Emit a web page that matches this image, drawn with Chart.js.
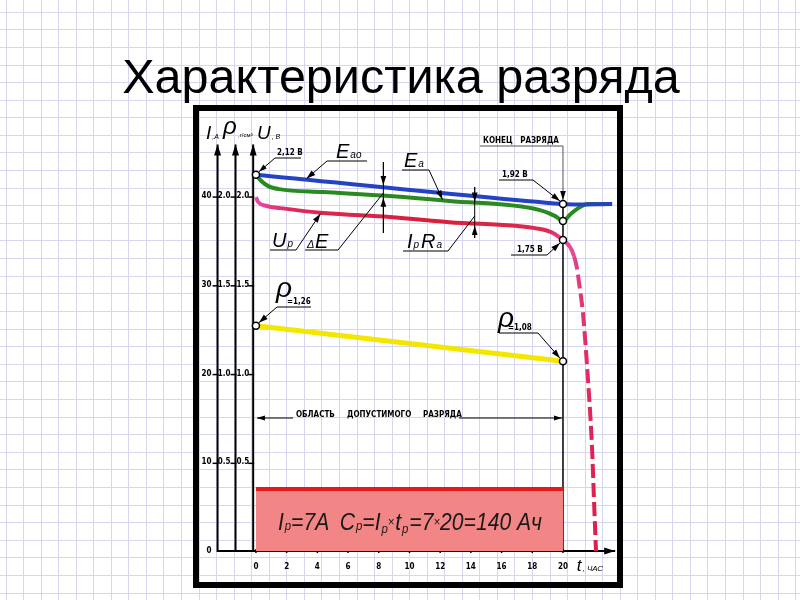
<!DOCTYPE html>
<html lang="ru">
<head>
<meta charset="utf-8">
<title>Характеристика разряда</title>
<script src="https://cdn.jsdelivr.net/npm/chart.js@4/dist/chart.umd.min.js"></script>
<style>
  html, body { margin: 0; padding: 0; background: #fff; }
  #quadro { position: relative; width: 800px; height: 600px; }
</style>
</head>
<body>
<div id="quadro"><canvas id="graficoDescarga"></canvas></div>
<script>
// ---- dados (t em horas, U em volts) ----
const eaoT = [0, 20, 23.2];                 // E_ао (azul)
const eaoU = [2.12, 1.955, 1.955];

const eaT = [0, 0.35, 0.8, 1.5, 4.4, 8.7, 12.6, 18.5, 19.5, 20, 20.5, 21, 21.6, 23.2];   // E_а (verde)
const eaU = [2.12, 2.085, 2.056, 2.039, 2.023, 2.0, 1.972, 1.921, 1.887, 1.859, 1.899, 1.932, 1.955, 1.955];

const upT = [0, 0.15, 0.7, 1.6, 4.4, 8.7, 12.6, 18.5, 19.35, 20, 20.46, 20.72, 20.91, 21.04, 21.3, 21.63, 21.89, 22.02, 22.15]; // U_р
const upU = [1.994, 1.966, 1.944, 1.932, 1.904, 1.882, 1.853, 1.814, 1.792, 1.752, 1.713, 1.662, 1.594, 1.515, 1.341, 0.963, 0.586, 0.287, 0];

const rhoT = [0, 20];                        // densidade (г/см³)
const rhoV = [1.27, 1.07];

const ipT = [0, 20];                         // corrente de descarga (A)
const ipA = [7, 7];

const horas = [0, 2, 4, 6, 8, 10, 12, 14, 16, 18, 20];
const ticksA = [0, 10, 20, 30, 40];
const ticksRho = [0.5, 1.0, 1.5, 2.0];
const ticksU = [0.5, 1.0, 1.5, 2.0];

const A_POR_V = 20;      // 40 A fica na mesma altura que 2,0 В
const FIM = 20;          // fim da descarga, h

const pares = (ts, vs, k = 1) => ts.map((t, i) => ({ x: t, y: vs[i] / k }));

function valorEm(ts, vs, t) {
  for (let i = 1; i < ts.length; i++) {
    if (t <= ts[i]) {
      const f = (t - ts[i - 1]) / (ts[i] - ts[i - 1]);
      return vs[i - 1] + f * (vs[i] - vs[i - 1]);
    }
  }
  return vs[vs.length - 1];
}

const marcadores = [
  { x: eaoT[0], y: eaoU[0] },
  { x: FIM, y: valorEm(eaoT, eaoU, FIM) },
  { x: FIM, y: valorEm(eaT, eaU, FIM) },
  { x: FIM, y: valorEm(upT, upU, FIM) },
  { x: rhoT[0], y: rhoV[0] },
  { x: rhoT[1], y: rhoV[1] }
];

const NARROW = '"Liberation Sans Narrow", "DejaVu Sans Condensed", "Liberation Sans", sans-serif';
const SANS = '"Liberation Sans", Arial, sans-serif';

// seta com ponta cheia em (x2, y2)
function seta(c, x1, y1, x2, y2, tam = 7, larg = 1) {
  c.lineWidth = larg;
  c.beginPath(); c.moveTo(x1, y1); c.lineTo(x2, y2); c.stroke();
  const a = Math.atan2(y2 - y1, x2 - x1);
  const w = tam * 0.32;
  c.beginPath();
  c.moveTo(x2, y2);
  c.lineTo(x2 - tam * Math.cos(a) + w * Math.sin(a), y2 - tam * Math.sin(a) - w * Math.cos(a));
  c.lineTo(x2 - tam * Math.cos(a) - w * Math.sin(a), y2 - tam * Math.sin(a) + w * Math.cos(a));
  c.closePath(); c.fill();
}

function linha(c, x1, y1, x2, y2, larg = 1) {
  c.lineWidth = larg;
  c.beginPath(); c.moveTo(x1, y1); c.lineTo(x2, y2); c.stroke();
}

// letra grande em itálico + índice pequeno
function simbolo(c, x, y, letra, indice, tam = 19, tamInd = 9) {
  c.font = "italic " + tam + "px " + SANS;
  c.fillText(letra, x, y);
  const w = c.measureText(letra).width;
  c.font = "italic " + tamInd + "px " + SANS;
  c.fillText(indice, x + w + 1, y);
  return x + w + 1 + c.measureText(indice).width;
}

function texto(c, s, x, y, tam = 8, alinh = "left") {
  c.font = "bold " + tam + "px " + NARROW;
  c.textAlign = alinh;
  c.fillText(s, x, y);
  c.textAlign = "left";
}

const desenho = {
  id: "desenho",
  beforeDraw(chart) {
    const c = chart.ctx;
    c.save();
    c.fillStyle = "#fff";
    c.fillRect(0, 0, chart.width, chart.height);
    // papel quadriculado
    c.strokeStyle = "#d6d6f0";
    c.lineWidth = 1;
    for (let x = 5.5; x < chart.width; x += 17.55) linha(c, Math.round(x) + 0.5, 0, Math.round(x) + 0.5, chart.height);
    for (let y = 11.7; y < chart.height; y += 17.6) linha(c, 0, Math.round(y) + 0.5, chart.width, Math.round(y) + 0.5);
    c.restore();
  },
  beforeDatasetsDraw(chart) {
    const c = chart.ctx;
    const { x, y } = chart.scales;
    const px = v => x.getPixelForValue(v);
    const py = v => y.getPixelForValue(v);
    const y0 = py(0);
    const eixos = [px(-2.5), px(-1.33), px(-0.18)];
    c.save();
    c.strokeStyle = "#000";
    c.fillStyle = "#000";
    eixos.forEach(ex => seta(c, ex, y0 + 1, ex, py(2.29), 11, 2));

    // marcas e valores dos eixos verticais
    c.textBaseline = "middle";
    ticksA.forEach(a => {
      const yy = py(a / A_POR_V);
      if (a > 0) linha(c, eixos[0] - 5, yy + 1, eixos[0] + 1, yy + 1, 1.5);
      texto(c, String(a), eixos[0] - 6, yy, 8, "right");
    });
    ticksRho.forEach(r => {
      const yy = py(r);
      linha(c, eixos[1] - 5, yy + 1, eixos[1] + 1, yy + 1, 1.5);
      texto(c, r.toFixed(1), eixos[1] - 5, yy, 8, "right");
    });
    ticksU.forEach(u => {
      const yy = py(u);
      linha(c, eixos[2] - 5, yy + 1, eixos[2] + 1, yy + 1, 1.5);
      texto(c, u.toFixed(1), eixos[2] - 4, yy, 8, "right");
    });

    // eixo do tempo
    seta(c, eixos[0], y0, px(23.4), y0, 11, 2);
    horas.forEach(h => {
      linha(c, px(h), y0 - 2, px(h), y0 + 2, 1.5);
      texto(c, String(h), px(h), y0 + 16, 8, "center");
    });
    c.textBaseline = "alphabetic";
    simbolo(c, px(20.9), y0 + 20, "t", ", ЧАС", 17, 8);

    // títulos dos eixos
    simbolo(c, 206, 139, "I", ",A", 19, 7);
    c.font = "italic 24px " + SANS;
    c.fillText("ρ", 223, 134);
    c.font = "6px " + SANS;
    c.fillText(",г/см³", 238, 137);
    simbolo(c, 257, 139, "U", ", В", 19, 7);

    // linha vertical do fim da descarga
    linha(c, px(FIM), py(valorEm(eaoT, eaoU, FIM)), px(FIM), y0, 1.5);
    c.restore();
  },
  afterDatasetsDraw(chart) {
    const c = chart.ctx;
    const { x, y } = chart.scales;
    const px = v => x.getPixelForValue(v);
    const py = v => y.getPixelForValue(v);
    c.save();
    c.strokeStyle = "#000";
    c.fillStyle = "#000";

    // 2,12 В
    const p0 = { x: px(eaoT[0]), y: py(eaoU[0]) };
    texto(c, "2,12 В", 277, 155);
    linha(c, 275, 158, 301, 158);
    seta(c, 275, 158, p0.x + 3, p0.y - 3, 8);

    // E_ао
    simbolo(c, 336, 158, "E", "ао", 20, 10);
    linha(c, 327, 161, 367, 161);
    seta(c, 327, 161, px(3.3), py(valorEm(eaoT, eaoU, 3.3)) - 1, 9);

    // E_а
    simbolo(c, 404, 167, "E", "а", 20, 10);
    linha(c, 402, 170, 429, 170);
    seta(c, 429, 170, px(12.15), py(valorEm(eaT, eaU, 12.15)) - 1, 9);

    // ΔE entre E_ао e E_а
    const tDE = 8.3;
    const xDE = px(tDE);
    const yAz = py(valorEm(eaoT, eaoU, tDE)), yVe = py(valorEm(eaT, eaU, tDE));
    linha(c, xDE, 162, xDE, 233);
    seta(c, xDE, 162, xDE, yAz - 2, 9);
    seta(c, xDE, 233, xDE, yVe + 2, 9);
    c.font = "italic 11px " + SANS;
    c.fillText("Δ", 307, 248);
    c.font = "italic 20px " + SANS;
    c.fillText("E", 315, 248);
    linha(c, 305, 250, 338, 250);
    linha(c, 338, 250, xDE, 193);

    // U_р
    simbolo(c, 272, 247, "U", "р", 20, 10);
    linha(c, 270, 250, 296, 250);
    seta(c, 296, 250, px(4.2), py(valorEm(upT, upU, 4.2)) + 1, 9);

    // I_р·R_а entre E_а e U_р
    const tIR = 14.25;
    const xIR = px(tIR);
    const yVe2 = py(valorEm(eaT, eaU, tIR)), yVm = py(valorEm(upT, upU, tIR));
    linha(c, xIR, 187, xIR, 238);
    seta(c, xIR, 187, xIR, yVe2 - 2, 9);
    seta(c, xIR, 238, xIR, yVm + 2, 9);
    let fimIR = simbolo(c, 407, 248, "I", "р", 20, 10);
    simbolo(c, fimIR + 2, 248, "R", "а", 20, 10);
    linha(c, 403, 251, 448, 251);
    linha(c, 448, 251, xIR, 216);

    // КОНЕЦ РАЗРЯДА
    texto(c, "КОНЕЦ   РАЗРЯДА", 483, 143, 8);
    c.strokeStyle = "#555";
    linha(c, 480, 146, px(FIM), 146);
    c.fillStyle = "#000";
    seta(c, px(FIM), 146, px(FIM), py(valorEm(eaoT, eaoU, FIM)) - 4, 9);
    c.strokeStyle = "#000";

    // 1,92 В
    texto(c, "1,92 В", 502, 177);
    linha(c, 499, 180, 533, 180);
    seta(c, 533, 180, px(FIM) - 3, py(valorEm(eaoT, eaoU, FIM)) - 3, 9);

    // 1,75 В
    texto(c, "1,75 В", 517, 252);
    linha(c, 511, 255, 547, 255);
    seta(c, 547, 255, px(FIM) - 3, py(valorEm(upT, upU, FIM)) + 3, 9);

    // ρ = 1,26
    c.font = "italic 28px " + SANS;
    c.fillText("ρ", 276, 297);
    texto(c, "=1,26", 287, 304, 8);
    linha(c, 277, 307, 311, 307);
    seta(c, 277, 307, px(rhoT[0]) + 3, py(rhoV[0]) - 3, 9);

    // ρ = 1,08
    c.font = "italic 28px " + SANS;
    c.fillText("ρ", 498, 327);
    texto(c, "=1,08", 508, 330, 8);
    linha(c, 499, 333, 538, 333);
    seta(c, 538, 333, px(rhoT[1]) - 3, py(rhoV[1]) - 3, 9);

    // área de descarga admissível
    const yArea = 418;
    seta(c, 293, yArea, px(0) + 1, yArea, 8);
    texto(c, "ОБЛАСТЬ", 296, yArea - 1);
    texto(c, "ДОПУСТИМОГО", 347, yArea - 1);
    texto(c, "РАЗРЯДА", 423, yArea - 1);
    seta(c, 459, yArea, px(FIM) - 1, yArea, 8);

    // legenda da corrente e capacidade (letra um pouco estreita, como no original)
    c.save();
    c.translate(278, 530);
    c.scale(0.88, 1);
    c.fillStyle = "#1a1a1a";
    let xx = 0;
    const yb = 0;
    xx = simbolo(c, xx, yb, "I", "р", 24, 13);
    c.font = "italic 24px " + SANS;
    c.fillText("=7A", xx, yb); xx += c.measureText("=7A").width + 12;
    xx = simbolo(c, xx, yb, "C", "р", 24, 13);
    c.font = "italic 24px " + SANS;
    c.fillText("=I", xx, yb); xx += c.measureText("=I").width + 1;
    c.font = "italic 13px " + SANS;
    c.fillText("р", xx, yb + 3); xx += c.measureText("р").width;
    c.fillText("×", xx, yb - 4); xx += c.measureText("×").width + 1;
    c.font = "italic 24px " + SANS;
    c.fillText("t", xx, yb); xx += c.measureText("t").width + 1;
    c.font = "italic 13px " + SANS;
    c.fillText("р", xx, yb + 3); xx += c.measureText("р").width + 1;
    c.font = "italic 24px " + SANS;
    c.fillText("=7", xx, yb); xx += c.measureText("=7").width;
    c.font = "italic 13px " + SANS;
    c.fillText("×", xx, yb - 4); xx += c.measureText("×").width;
    c.font = "italic 24px " + SANS;
    c.fillText("20=140 Ач", xx, yb);
    c.restore();

    // moldura
    const ca = chart.chartArea;
    c.strokeStyle = "#000";
    c.lineWidth = 6;
    c.strokeRect(ca.left + 3, ca.top + 3, ca.right - ca.left - 6, ca.bottom - ca.top - 6);

    // título
    c.fillStyle = "#000";
    c.textAlign = "center";
    c.font = "45px " + SANS;
    const larg = c.measureText("Характеристика разряда").width;
    const tam = 45 * 558 / larg;
    c.font = tam.toFixed(1) + "px " + SANS;
    c.fillText("Характеристика разряда", 401, 93);
    c.restore();
  }
};

const ctx = document.getElementById("graficoDescarga");

new Chart(ctx, {
  type: "line",
  data: {
    datasets: [
      {
        label: "Маркеры",
        data: marcadores,
        showLine: false,
        pointRadius: 3.5,
        pointBackgroundColor: "#fff",
        pointBorderColor: "#000",
        pointBorderWidth: 1.5,
        order: 0
      },
      {
        label: "Eао",
        data: pares(eaoT, eaoU),
        borderColor: "#2443c4",
        borderWidth: 4,
        pointRadius: 0,
        tension: 0.3,
        order: 2
      },
      {
        label: "Eа",
        data: pares(eaT, eaU),
        borderColor: "#2a8a22",
        borderWidth: 4,
        pointRadius: 0,
        cubicInterpolationMode: "monotone",
        order: 3
      },
      {
        label: "Uр",
        data: pares(upT, upU),
        borderColor: (context) => {
          const { ctx: c, chartArea, scales } = context.chart;
          if (!chartArea) return "#d8203c";
          const g = c.createLinearGradient(scales.x.getPixelForValue(0), 0, scales.x.getPixelForValue(22.2), 0);
          g.addColorStop(0, "#e84aa8");
          g.addColorStop(0.1, "#dc2a5c");
          g.addColorStop(0.5, "#d81e3a");
          g.addColorStop(0.85, "#dc2a50");
          g.addColorStop(0.92, "#e84a9a");
          g.addColorStop(1, "#dc1c48");
          return g;
        },
        segment: {
          borderDash: (s) => (s.p0.parsed.x >= 20.6 ? [14, 5] : undefined)
        },
        borderWidth: 4,
        pointRadius: 0,
        cubicInterpolationMode: "monotone",
        order: 4
      },
      {
        label: "ρ",
        data: pares(rhoT, rhoV),
        borderColor: "#f3e600",
        borderWidth: 5,
        pointRadius: 0,
        order: 5
      },
      {
        label: "Iр",
        data: pares(ipT, ipA, A_POR_V),
        borderColor: "#e31a1a",
        backgroundColor: "#f28585",
        borderWidth: 4,
        pointRadius: 0,
        fill: "origin",
        order: 6
      }
    ]
  },
  options: {
    responsive: true,
    maintainAspectRatio: false,
    animation: false,
    layout: { padding: { left: 193, right: 177, top: 105, bottom: 12 } },
    plugins: {
      legend: { display: false },
      tooltip: { enabled: false }
    },
    scales: {
      x: { type: "linear", min: -4.1, max: 23.91, display: false },
      y: { type: "linear", min: -0.208, max: 2.513, display: false }
    }
  },
  plugins: [desenho]
});
</script>
</body>
</html>
